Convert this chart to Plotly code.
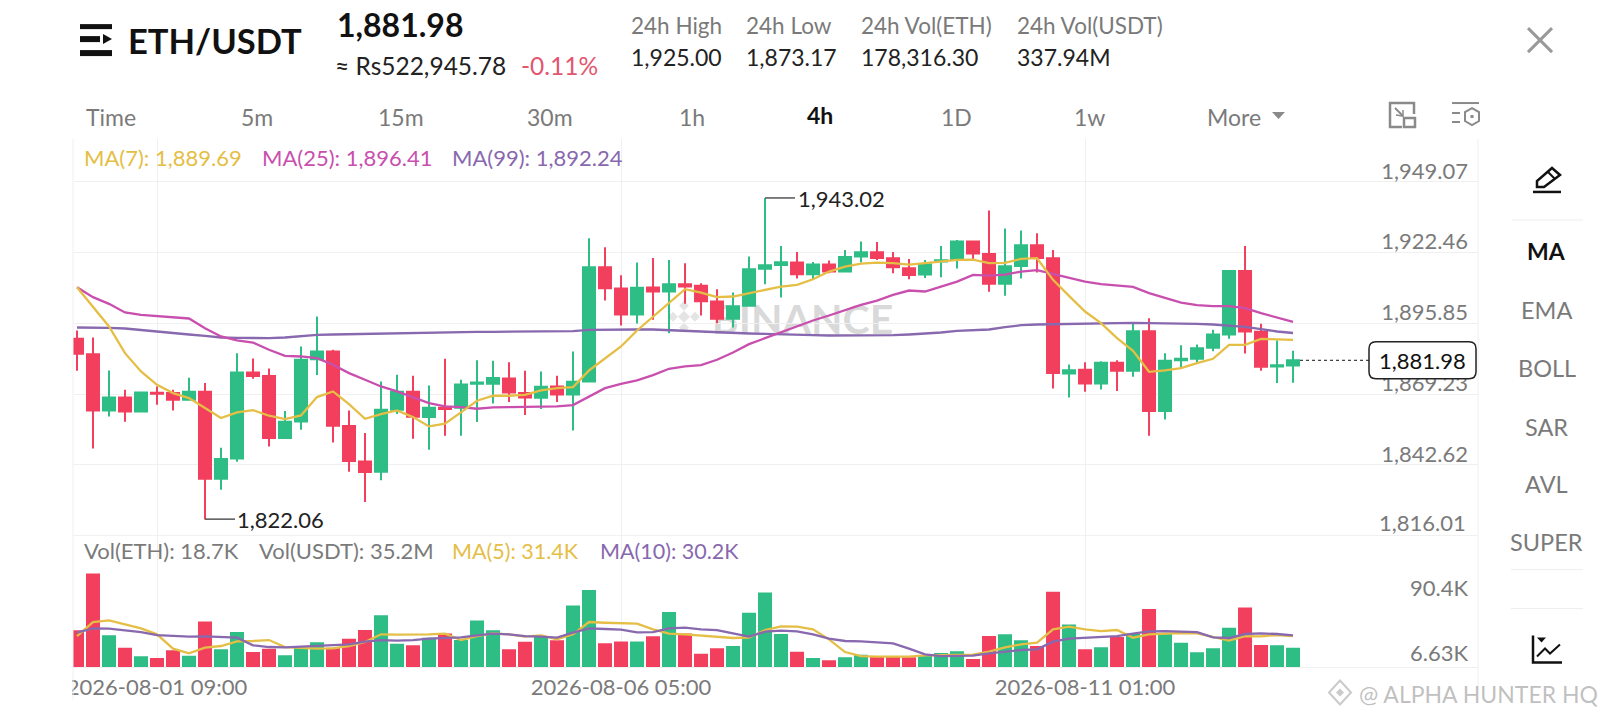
import pandas as pd
import plotly.graph_objs as go
from plotly.subplots import make_subplots

# ------------------------- chart data -------------------------
first_candle = '2026-07-31 13:00'
date_ticks = ['2026-08-01 09:00', '2026-08-06 05:00', '2026-08-11 01:00']
price_ticks = [1949.07, 1922.46, 1895.85, 1869.23, 1842.62, 1816.01]
vol_ticks = [90.4, 6.63]
vol_tick_text = ['90.4K', '6.63K']

opens = [1890.05, 1884.29, 1863.11, 1868.00, 1862.74, 1869.75, 1869.63, 1867.12, 1870.13, 1837.43,
	1845.07, 1877.40, 1876.02, 1852.71, 1858.98, 1882.41, 1885.29, 1857.22, 1843.94, 1840.06,
	1863.36, 1870.13, 1860.61, 1864.12, 1864.12, 1873.14, 1873.14, 1875.14, 1869.63, 1867.87,
	1872.13, 1869.13, 1874.01, 1916.99, 1908.97, 1899.20, 1909.35, 1907.85, 1910.60, 1909.98,
	1904.09, 1897.57, 1902.46, 1916.37, 1917.87, 1918.75, 1914.36, 1917.99, 1915.36, 1921.00,
	1922.63, 1920.38, 1916.62, 1914.24, 1919.12, 1920.00, 1926.64, 1922.00, 1910.73, 1917.49,
	1925.26, 1920.38, 1877.02, 1878.40, 1873.26, 1881.03, 1878.02, 1892.93, 1862.86, 1882.03,
	1882.53, 1886.67, 1891.68, 1915.61, 1892.68, 1879.65, 1880.02]
closes = [1884.41, 1863.11, 1868.00, 1862.74, 1869.88, 1869.38, 1867.12, 1870.13, 1837.43, 1844.82,
	1877.40, 1876.02, 1852.71, 1858.85, 1882.16, 1885.29, 1857.35, 1844.07, 1839.93, 1863.36,
	1870.13, 1860.73, 1864.12, 1863.61, 1872.89, 1873.64, 1875.27, 1869.88, 1868.00, 1872.01,
	1869.13, 1873.89, 1916.99, 1909.10, 1899.20, 1909.22, 1907.85, 1910.60, 1909.72, 1904.21,
	1897.57, 1902.33, 1916.24, 1917.74, 1918.87, 1914.36, 1917.99, 1915.36, 1920.88, 1922.63,
	1920.50, 1916.99, 1914.11, 1918.12, 1919.62, 1926.64, 1922.13, 1910.73, 1917.37, 1925.26,
	1920.50, 1877.15, 1878.27, 1873.26, 1881.03, 1878.02, 1892.93, 1862.86, 1881.78, 1882.53,
	1886.54, 1891.68, 1915.61, 1892.81, 1879.53, 1880.15, 1881.98]
highs = [1893.19, 1890.55, 1878.15, 1870.88, 1869.98, 1872.13, 1870.88, 1875.39, 1873.39, 1849.08,
	1884.66, 1882.66, 1878.90, 1862.86, 1887.17, 1898.45, 1885.92, 1863.11, 1854.59, 1874.01,
	1876.52, 1876.14, 1872.51, 1882.53, 1874.64, 1882.03, 1881.78, 1881.28, 1878.02, 1877.77,
	1876.14, 1885.29, 1927.89, 1924.51, 1913.99, 1918.75, 1920.50, 1919.75, 1918.50, 1910.98,
	1908.72, 1907.47, 1921.00, 1943.02, 1925.01, 1922.76, 1919.00, 1919.50, 1923.51, 1926.64,
	1926.52, 1922.76, 1920.12, 1919.75, 1925.01, 1927.27, 1927.02, 1938.29, 1931.53, 1930.78,
	1929.77, 1923.51, 1880.40, 1881.28, 1881.66, 1882.03, 1895.69, 1897.82, 1884.66, 1887.67,
	1887.92, 1893.44, 1915.99, 1925.01, 1895.69, 1889.43, 1885.54]
lows = [1878.02, 1848.83, 1860.86, 1858.85, 1862.64, 1865.24, 1863.11, 1866.87, 1822.06, 1833.29,
	1843.82, 1875.02, 1849.58, 1852.61, 1855.85, 1876.40, 1851.08, 1840.06, 1828.66, 1836.80,
	1861.74, 1852.46, 1848.33, 1853.59, 1853.59, 1858.73, 1865.74, 1866.25, 1861.36, 1863.61,
	1866.25, 1855.60, 1873.64, 1904.46, 1895.06, 1895.82, 1897.19, 1892.18, 1903.21, 1898.82,
	1895.94, 1894.31, 1902.36, 1910.60, 1905.59, 1912.73, 1912.48, 1914.74, 1914.99, 1918.75,
	1919.75, 1914.74, 1912.48, 1912.98, 1913.23, 1916.49, 1920.00, 1907.72, 1906.22, 1912.73,
	1914.99, 1871.38, 1868.00, 1870.13, 1871.01, 1870.38, 1875.77, 1853.59, 1859.73, 1879.15,
	1880.91, 1885.42, 1890.05, 1884.54, 1878.02, 1873.39, 1873.51]

ma7 = [1909.47, 1902.21, 1894.69, 1884.66, 1877.77, 1872.76, 1869.63, 1867.75, 1863.99, 1860.23,
	1862.36, 1863.24, 1861.11, 1859.86, 1861.23, 1868.13, 1870.26, 1865.49, 1859.98, 1861.74,
	1863.11, 1860.61, 1857.10, 1858.10, 1862.36, 1866.75, 1868.63, 1868.63, 1869.00, 1870.63,
	1871.51, 1871.88, 1878.15, 1882.79, 1887.17, 1893.19, 1898.45, 1903.46, 1908.72, 1907.47,
	1905.72, 1905.97, 1907.22, 1908.72, 1909.72, 1910.35, 1912.48, 1915.36, 1917.24, 1918.37,
	1918.75, 1918.50, 1917.99, 1918.50, 1919.12, 1919.75, 1919.87, 1918.50, 1918.62, 1920.12,
	1920.38, 1912.23, 1906.22, 1900.33, 1895.94, 1890.30, 1885.54, 1877.65, 1878.15, 1879.03,
	1880.91, 1882.53, 1887.80, 1887.80, 1890.05, 1889.80, 1889.69]
ma25 = [1909.47, 1905.72, 1903.21, 1899.95, 1899.07, 1898.70, 1898.07, 1897.70, 1894.06, 1890.93,
	1889.43, 1888.67, 1885.92, 1883.66, 1883.41, 1882.79, 1880.28, 1877.15, 1874.64, 1872.13,
	1870.26, 1868.13, 1865.87, 1864.62, 1864.37, 1863.74, 1864.24, 1864.37, 1864.49, 1864.62,
	1864.62, 1865.12, 1868.38, 1871.51, 1873.14, 1874.39, 1876.40, 1878.78, 1879.65, 1880.15,
	1882.16, 1884.92, 1888.05, 1890.30, 1892.43, 1894.69, 1896.94, 1898.82, 1900.95, 1902.83,
	1904.46, 1906.59, 1908.22, 1907.85, 1909.72, 1911.60, 1914.11, 1913.86, 1914.24, 1915.36,
	1915.86, 1914.36, 1912.86, 1911.60, 1910.60, 1909.98, 1909.60, 1907.22, 1905.34, 1903.71,
	1902.71, 1902.33, 1902.33, 1901.58, 1899.70, 1898.07, 1896.41]
ma99 = [1894.31, 1894.31, 1894.19, 1893.94, 1893.31, 1892.68, 1892.18, 1891.68, 1891.18, 1890.55,
	1890.43, 1890.30, 1890.30, 1890.55, 1891.18, 1891.56, 1891.68, 1891.81, 1891.93, 1892.06,
	1892.18, 1892.43, 1892.56, 1892.56, 1892.68, 1892.68, 1892.68, 1892.68, 1892.81, 1892.81,
	1892.81, 1892.93, 1893.44, 1893.56, 1893.56, 1893.56, 1893.56, 1893.31, 1892.93, 1892.68,
	1892.31, 1892.18, 1892.06, 1891.93, 1891.68, 1891.56, 1891.43, 1891.31, 1891.31, 1891.31,
	1891.31, 1891.43, 1891.68, 1891.93, 1892.43, 1893.06, 1893.31, 1893.56, 1894.44, 1895.19,
	1895.44, 1895.57, 1895.69, 1895.82, 1895.94, 1896.07, 1896.07, 1895.94, 1895.94, 1895.94,
	1895.69, 1895.44, 1895.06, 1894.56, 1893.69, 1892.81, 1892.24]

# volume in thousands of ETH
volumes = [50.45, 123.1, 44.1, 28.4, 17.3, 15.2, 25.0, 18.2, 61.9, 26.2,
	48.3, 22.8, 27.1, 18.6, 29.6, 35.2, 28.4, 39.8, 50.9, 69.6,
	33.5, 31.3, 41.1, 46.6, 38.1, 63.2, 50.5, 26.2, 36.0, 42.4,
	37.7, 82.3, 101.9, 33.9, 36.4, 36.4, 42.8, 73.8, 46.6, 20.7,
	27.5, 30.5, 73.0, 98.9, 45.8, 23.3, 15.2, 12.2, 16.0, 19.4,
	16.9, 16.9, 16.0, 18.6, 21.6, 23.7, 13.9, 43.2, 45.4, 37.7,
	30.5, 99.8, 58.1, 26.2, 28.8, 42.0, 46.2, 77.7, 46.6, 34.7,
	22.4, 27.5, 53.9, 79.8, 31.8, 31.3, 28.4]
vol_ma5 = [43.2, 61.1, 63.2, 58.1, 53.0, 45.4, 27.1, 21.1, 28.4, 30.5,
	36.4, 36.9, 38.1, 29.2, 28.4, 27.1, 27.5, 30.5, 35.6, 45.4,
	45.0, 45.0, 45.4, 46.2, 38.1, 43.2, 46.6, 45.4, 42.4, 44.1,
	39.0, 45.4, 61.1, 60.2, 59.4, 59.0, 51.7, 46.2, 45.4, 43.7,
	42.4, 40.7, 41.1, 50.9, 55.6, 55.2, 51.7, 39.0, 22.8, 17.7,
	16.9, 16.9, 16.9, 18.6, 18.6, 18.6, 19.5, 23.3, 28.8, 32.6,
	34.8, 51.7, 55.2, 51.7, 49.6, 50.9, 41.1, 45.4, 46.6, 47.1,
	46.6, 42.4, 37.3, 43.2, 42.8, 44.5, 43.2]
vol_ma10 = [47.5, 53.0, 52.6, 50.9, 48.3, 44.5, 43.2, 42.4, 42.8, 41.6,
	41.1, 31.4, 29.2, 28.8, 29.6, 30.9, 31.4, 32.6, 36.0, 38.1,
	37.3, 38.1, 39.9, 40.7, 41.6, 44.1, 46.2, 45.4, 43.2, 42.4,
	41.1, 47.5, 53.0, 52.2, 51.3, 47.9, 48.3, 53.0, 53.9, 51.7,
	50.9, 46.6, 42.4, 48.8, 50.0, 49.2, 45.4, 39.9, 36.9, 36.4,
	35.2, 33.9, 27.1, 19.9, 17.7, 17.7, 18.2, 21.1, 23.7, 25.4,
	26.2, 36.0, 39.9, 40.7, 42.0, 43.2, 46.2, 49.2, 49.6, 49.2,
	48.3, 41.6, 40.7, 45.8, 46.6, 45.8, 44.1]

# ------------------------- look of the thing -------------------------
FONT = 'Lato'
GREEN = '#2EBD85'
RED = '#F23F5D'
YELLOW = '#E5BE45'
PINK = '#C94FAE'
PURPLE = '#8868AE'
GREY = '#7A7A7A'
ICON = '#8A8A8A'
GRID = '#F0F0F0'

# plot box in page pixels, everything around it is placed relative to it
LEFT, RIGHT, TOP, BOTTOM = 73, 1478, 139, 667.5
SPLIT = 536


def px(x):
	return (x - LEFT) / (RIGHT - LEFT)


def py(y):
	return (BOTTOM - y) / (BOTTOM - TOP)


dates = pd.date_range(first_candle, periods=len(opens), freq='4h')
bar_colors = [GREEN if c >= o else RED for o, c in zip(opens, closes)]

fig = make_subplots(rows=2, cols=1, shared_xaxes=True, vertical_spacing=0,
	row_heights=[SPLIT - TOP, BOTTOM - SPLIT])

fig.add_trace(go.Candlestick(x=dates, open=opens, high=highs, low=lows, close=closes,
	increasing=dict(line=dict(color=GREEN, width=2), fillcolor=GREEN),
	decreasing=dict(line=dict(color=RED, width=2), fillcolor=RED),
	whiskerwidth=0, showlegend=False), row=1, col=1)
for name, values, color in [('MA(99)', ma99, PURPLE), ('MA(25)', ma25, PINK), ('MA(7)', ma7, YELLOW)]:
	fig.add_trace(go.Scatter(x=dates, y=values, mode='lines', name=name,
		line=dict(color=color, width=2.3), showlegend=False), row=1, col=1)

fig.add_trace(go.Bar(x=dates, y=volumes, marker=dict(color=bar_colors, line=dict(width=0)),
	showlegend=False), row=2, col=1)
for name, values, color in [('MA(5)', vol_ma5, YELLOW), ('MA(10)', vol_ma10, PURPLE)]:
	fig.add_trace(go.Scatter(x=dates, y=values, mode='lines', name=name,
		line=dict(color=color, width=2.3), showlegend=False), row=2, col=1)

# ------------------------- texts -------------------------
notes = []


def text(x, y, s, size=22, color=GREY, anchor='left', weight=400):
	notes.append(dict(x=px(x), y=py(y), xref='paper', yref='paper', text=s, showarrow=False,
		xanchor=anchor, yanchor='middle', align=anchor, borderpad=0,
		font=dict(family=FONT, size=size, color=color, weight=weight)))


text(127, 40, 'ETH/USDT', size=34.5, color='#111111', weight=700)
text(336, 24, '1,881.98', size=32, color='#111111', weight=700)
text(334, 65, '≈ Rs522,945.78', size=24.5, color='#222222')
text(520, 65, '-0.11%', size=24.5, color='#E2566F')

for x, label, value in [(630, '24h High', '1,925.00'), (745, '24h Low', '1,873.17'),
		(860, '24h Vol(ETH)', '178,316.30'), (1016, '24h Vol(USDT)', '337.94M')]:
	text(x, 25, label, size=22.5)
	text(x, 57, value, size=23, color='#222222')

for x, label in [(85, 'Time'), (240, '5m'), (377, '15m'), (526, '30m'), (678, '1h'),
		(940, '1D'), (1073, '1w'), (1206, 'More')]:
	text(x, 117, label, size=23)
text(806, 115, '4h', size=23, color='#111111', weight=700)

text(83, 158, 'MA(7): 1,889.69', color=YELLOW)
text(261, 158, 'MA(25): 1,896.41', color=PINK)
text(451, 158, 'MA(99): 1,892.24', color=PURPLE)

text(83, 551, 'Vol(ETH): 18.7K')
text(258, 551, 'Vol(USDT): 35.2M')
text(451, 551, 'MA(5): 31.4K', size=21.5, color=YELLOW)
text(599, 551, 'MA(10): 30.2K', size=21.5, color=PURPLE)

text(797, 199, '1,943.02', color='#222222')
text(236, 520, '1,822.06', color='#222222')
text(1467, 360.5, '1,881.98', color='#111111', anchor='right')
# plotly drops the tick label that sits on the edge of the range
text(1467, 523, '1,816.01', anchor='right')

text(1547, 251, 'MA', size=23, color='#111111', weight=700, anchor='center')
for y, label in [(310, 'EMA'), (368, 'BOLL'), (427, 'SAR'), (484, 'AVL'), (542, 'SUPER')]:
	text(1547, y, label, size=23.5, anchor='center')

text(1358, 695, '@ ALPHA HUNTER HQ', size=23, color='rgba(150,150,150,0.6)')

# ------------------------- lines and icons -------------------------
shapes = []


def line(x0, y0, x1, y1, color=ICON, width=2, dash='solid', layer='above'):
	shapes.append(dict(type='line', xref='paper', yref='paper', x0=px(x0), y0=py(y0), x1=px(x1), y1=py(y1),
		line=dict(color=color, width=width, dash=dash), layer=layer))


def rect(x0, y0, x1, y1, fill='white', color=None, width=0, layer='above'):
	shapes.append(dict(type='rect', xref='paper', yref='paper', x0=px(x0), y0=py(y0), x1=px(x1), y1=py(y1),
		fillcolor=fill, line=dict(color=color, width=width), layer=layer))


def poly(points, fill=None, color=ICON, width=2, closed=False, layer='above'):
	path = 'M' + ' L'.join('{:.5f},{:.5f}'.format(px(x), py(y)) for x, y in points)
	if closed:
		path += ' Z'
	shapes.append(dict(type='path', xref='paper', yref='paper', path=path, fillcolor=fill,
		line=dict(color=color, width=width), layer=layer))


def diamond(x, y, r, fill, layer='below'):
	poly([(x, y - r), (x + r, y), (x, y + r), (x - r, y)], fill=fill, color='rgba(0,0,0,0)', width=0,
		closed=True, layer=layer)


def rounded(x0, y0, x1, y1, r, fill='white', color='#222222', width=1.5):
	def p(x, y):
		return '{:.5f},{:.5f}'.format(px(x), py(y))
	path = ('M' + p(x0 + r, y0) + ' L' + p(x1 - r, y0) + ' Q' + p(x1, y0) + ' ' + p(x1, y0 + r)
		+ ' L' + p(x1, y1 - r) + ' Q' + p(x1, y1) + ' ' + p(x1 - r, y1)
		+ ' L' + p(x0 + r, y1) + ' Q' + p(x0, y1) + ' ' + p(x0, y1 - r)
		+ ' L' + p(x0, y0 + r) + ' Q' + p(x0, y0) + ' ' + p(x0 + r, y0) + ' Z')
	shapes.append(dict(type='path', xref='paper', yref='paper', path=path, fillcolor=fill,
		line=dict(color=color, width=width), layer='above'))


# frame of the chart
line(LEFT, TOP, LEFT, 700, color=GRID, width=1)
line(RIGHT, TOP, RIGHT, 690, color=GRID, width=1)
line(LEFT, SPLIT, RIGHT, SPLIT, color=GRID, width=1)
# first date label runs off the chart on the left
rect(40, 672, LEFT - 1, 702)

# pair logo
rect(80, 24, 112, 29, fill='#111111')
rect(80, 36, 100, 42, fill='#111111')
poly([(103, 34), (112, 39), (103, 44)], fill='#111111', color='#111111', width=0, closed=True)
rect(80, 50, 112, 56, fill='#111111')

# close button
line(1528, 28, 1552, 52, color='#999999', width=3)
line(1552, 28, 1528, 52, color='#999999', width=3)

# triangle next to More
poly([(1272, 112), (1285, 112), (1278.5, 119)], fill=ICON, color=ICON, width=0, closed=True)

# the two chart setting icons
poly([(1402, 127), (1390, 127), (1390, 103), (1414, 103), (1414, 114)], width=2.5)
rect(1404, 118, 1415, 127, fill='white', color=ICON, width=2.5)
line(1395, 108, 1403, 116)
poly([(1396, 115), (1403, 116), (1403, 110)], width=1.5)
line(1452, 103, 1479, 103)
line(1452, 113, 1460, 113)
line(1452, 122, 1460, 122)
poly([(1472, 108), (1479, 112), (1479, 121), (1472, 125), (1465, 121), (1465, 112)], closed=True)
rect(1470.5, 115, 1473.5, 118, fill=ICON, color=ICON, width=0)

# side panel
poly([(1552, 168), (1560, 175), (1544, 187), (1537, 187), (1537, 181)], color='#111111', width=2.5, closed=True)
line(1548, 172, 1555, 179, color='#111111')
line(1533, 192, 1561, 192, color='#111111', width=2.5)
line(1512, 220, 1583, 220, color='#EEEEEE', width=1)
line(1511, 570, 1583, 570, color='#EEEEEE', width=1)
line(1511, 609, 1583, 609, color='#EEEEEE', width=1)
poly([(1533, 636), (1533, 663), (1562, 663)], color='#111111', width=2.5)
poly([(1537, 657), (1545, 649), (1550, 654), (1560, 645)], color='#111111', width=2)
poly([(1537, 638), (1546, 638), (1541.5, 643)], fill='#111111', color='#111111', width=0, closed=True)

# last price marker
line(1300, 360.5, 1369, 360.5, color='#111111', width=1, dash='3px,3px')
rounded(1369, 342, 1476, 379, 7)

# high and low leaders
line(765, 198, 795, 198, color='#555555', width=1.5)
line(205, 519.5, 235, 519.5, color='#555555', width=1.5)

# watermark under the candles
for dx, dy, r in [(0, 0, 6), (-11, 0, 5), (11, 0, 5), (0, -11, 5), (0, 11, 5)]:
	diamond(684 + dx, 317 + dy, r, 'rgba(170,170,170,0.32)')
shapes.append(dict(type='rect', xref='paper', yref='paper', x0=px(705), x1=px(900), y0=py(335), y1=py(300),
	line=dict(width=0), layer='below',
	label=dict(text='BINANCE', textposition='middle center',
		font=dict(family=FONT, size=41, color='rgba(170,170,170,0.45)', weight=700))))
# same mark, small, next to the handle
poly([(1340, 681), (1351, 693), (1340, 705), (1329, 693)], color='rgba(150,150,150,0.5)', width=2, closed=True)
diamond(1340, 693, 4, 'rgba(150,150,150,0.5)', layer='above')

# ------------------------- layout -------------------------
slot = pd.Timedelta(hours=4)
fig.update_layout(width=1612, height=720, template=None, paper_bgcolor='white', plot_bgcolor='white',
	margin=dict(l=LEFT, r=1612 - RIGHT, t=TOP, b=720 - BOTTOM, pad=0),
	bargap=0.125, boxgap=0.25, boxgroupgap=0, showlegend=False, annotations=notes, shapes=shapes,
	font=dict(family=FONT, size=22, color=GREY))
x_range = [dates[0] - slot * 0.25, dates[0] + slot * 87.56]
fig.update_xaxes(range=x_range, rangeslider_visible=False, showgrid=True, gridcolor=GRID, gridwidth=1,
	tickvals=date_ticks, tickformat='%Y-%m-%d %H:%M', ticks='', zeroline=False, showline=False)
fig.update_xaxes(showline=True, linecolor=GRID, linewidth=1, ticklabelstandoff=1,
	tickfont=dict(family=FONT, size=22, color=GREY), row=2, col=1)
fig.update_yaxes(side='right', ticklabelposition='inside', zeroline=False, showline=False, ticks='',
	tickfont=dict(family=FONT, size=22, color=GREY), ticklabelstandoff=7, ticklabelshift=-11)
fig.update_yaxes(range=[1816.01, 1965.23], tickvals=price_ticks, tickformat=',.2f', showgrid=True,
	gridcolor=GRID, gridwidth=1, row=1, col=1)
fig.update_yaxes(range=[3.7, 171.4], tickvals=vol_ticks, ticktext=vol_tick_text, showgrid=False, row=2, col=1)

fig.write_html('out.html', config={'displayModeBar': False}, post_script="document.body.style.margin='0';")
